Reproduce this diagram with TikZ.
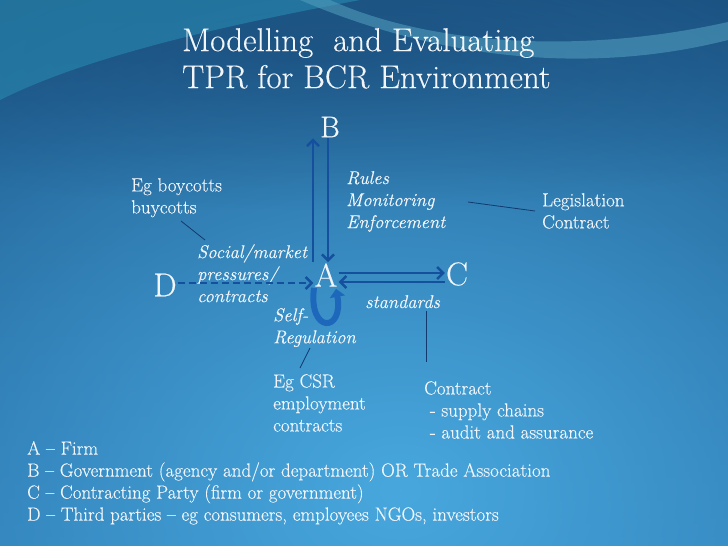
\documentclass[tikz,border=0pt]{standalone}
\usepackage{fontspec}
\setmainfont{Latin Modern Roman}[FakeBold=0.25]
\usepackage{tikz}
\usetikzlibrary{arrows.meta,positioning,fadings}
\definecolor{slidetop}{RGB}{22, 74, 122}
\definecolor{slidebottom}{RGB}{34, 104, 162}
\definecolor{slidelight}{RGB}{72, 168, 222}
\definecolor{slideteal}{RGB}{40, 138, 176}
\definecolor{slidenavy}{RGB}{18, 60, 104}
\definecolor{arrowblue}{RGB}{20, 80, 158}
\definecolor{loopblue}{RGB}{30, 104, 188}
\definecolor{textwhite}{RGB}{242, 246, 250}
\definecolor{linenavy}{RGB}{18, 58, 108}
\tikzfading[name=lightblob, inner color=transparent!0, outer color=transparent!100]
\tikzstyle{title} = [text=textwhite, anchor=north west, inner sep=0pt, align=left, font=\fontsize{33}{37}\selectfont]
\tikzstyle{letter} = [text=textwhite, inner sep=1pt, font=\fontsize{33}{36}\selectfont]
\tikzstyle{textonly} = [text=textwhite, anchor=north west, inner sep=0pt, align=left, font=\fontsize{19}{22}\selectfont]
\tikzstyle{itext} = [textonly, font=\fontsize{18.5}{22}\selectfont\itshape]
\tikzstyle{tedge} = [draw=arrowblue, line width=2.4pt, -{Straight Barb[length=6pt,width=12pt]}]
\tikzstyle{pointer} = [draw=linenavy, line width=0.8pt]
\tikzstyle{selfloop} = [draw=loopblue, line width=6pt, -{Triangle[length=8pt,width=15pt]}]

\begin{document}
\begin{tikzpicture}[x=1pt, y=-1pt]

% background =============================
\useasboundingbox (0,0) rectangle (728,546);
\shade[top color=slidetop, bottom color=slidebottom] (0,0) rectangle (728,546);
\fill[slidelight, path fading=lightblob] (400,490) ellipse (820 and 640);
\fill[slidenavy, opacity=0.45, path fading=lightblob] (330,50) ellipse (620 and 160);
\fill[slideteal, opacity=0.6] (0,0) -- (0,100) .. controls (80,60) and (200,30) .. (360,0) -- cycle;
\fill[slideteal!80!white, opacity=0.55] (330,0) .. controls (430,45) and (580,55) .. (728,22) -- (728,40) .. controls (590,75) and (440,60) .. (300,0) -- cycle;

% title
\node[title] (title) at (182,28) {Modelling\ \ and Evaluating\\TPR for BCR Environment};

% parties =============================
\node[letter, font=\fontsize{30}{34}\selectfont] (B) at (330,127) {B};
\node[letter] (A) at (326,275) {A};
\node[letter] (C) at (457,274) {C};
\node[letter] (D) at (165,285) {D};

% labels
\node[textonly] (boycott) at (131,178) {Eg boycotts\\buycotts};
\node[itext] (rules) at (346,171) {Rules\\Monitoring\\Enforcement};
\node[textonly] (legis) at (542,193) {Legislation\\Contract};
\node[itext] (social) at (197,244) {Social/market\\pressures/\\contracts};
\node[itext] (standards) at (365,295) {standards};
\node[itext] (selfreg) at (273,308) {Self-\\Regulation};
\node[textonly] (csr) at (273,374) {Eg CSR\\employment\\contracts};
\node[textonly] (contract) at (424,381) {Contract\\\ - supply chains\\\ - audit and assurance};
\node[textonly] (legend) at (27,441) {A -- Firm\\B -- Government (agency and/or department) OR Trade Association\\C -- Contracting Party (firm or government)\\D -- Third parties -- eg consumers, employees NGOs, investors};

% edges
\path[tedge] ([xshift=-13pt]A.north) -- ([xshift=-17pt]B.south);
\path[tedge] ([xshift=-2pt]B.south) -- ([xshift=2pt]A.north);
\path[tedge] ([yshift=2pt]A.east) -- ([yshift=1pt]C.west);
\path[tedge] ([yshift=-8pt]C.west) -- ([yshift=-7pt]A.east);
\path[tedge, dash pattern=on 7pt off 4pt] ([yshift=2pt]D.east) -- ([yshift=-8pt]A.west);
\path[selfloop] ([xshift=-12pt]A.south) .. controls +(-6,46) and +(8,44) .. ([xshift=10pt,yshift=-1pt]A.south);

% pointers
\coordinate (p1a) at (181,221);
\coordinate (p1b) at (205,240);
\coordinate (p2a) at (468,202);
\coordinate (p2b) at (535,211);
\coordinate (p3a) at (426,311);
\coordinate (p3b) at (426,362);
\coordinate (p4a) at (310,348);
\coordinate (p4b) at (300,368);
\path[pointer] (p1a) -- (p1b);
\path[pointer] (p2a) -- (p2b);
\path[pointer] (p3a) -- (p3b);
\path[pointer] (p4a) -- (p4b);

\end{tikzpicture}
\end{document}
